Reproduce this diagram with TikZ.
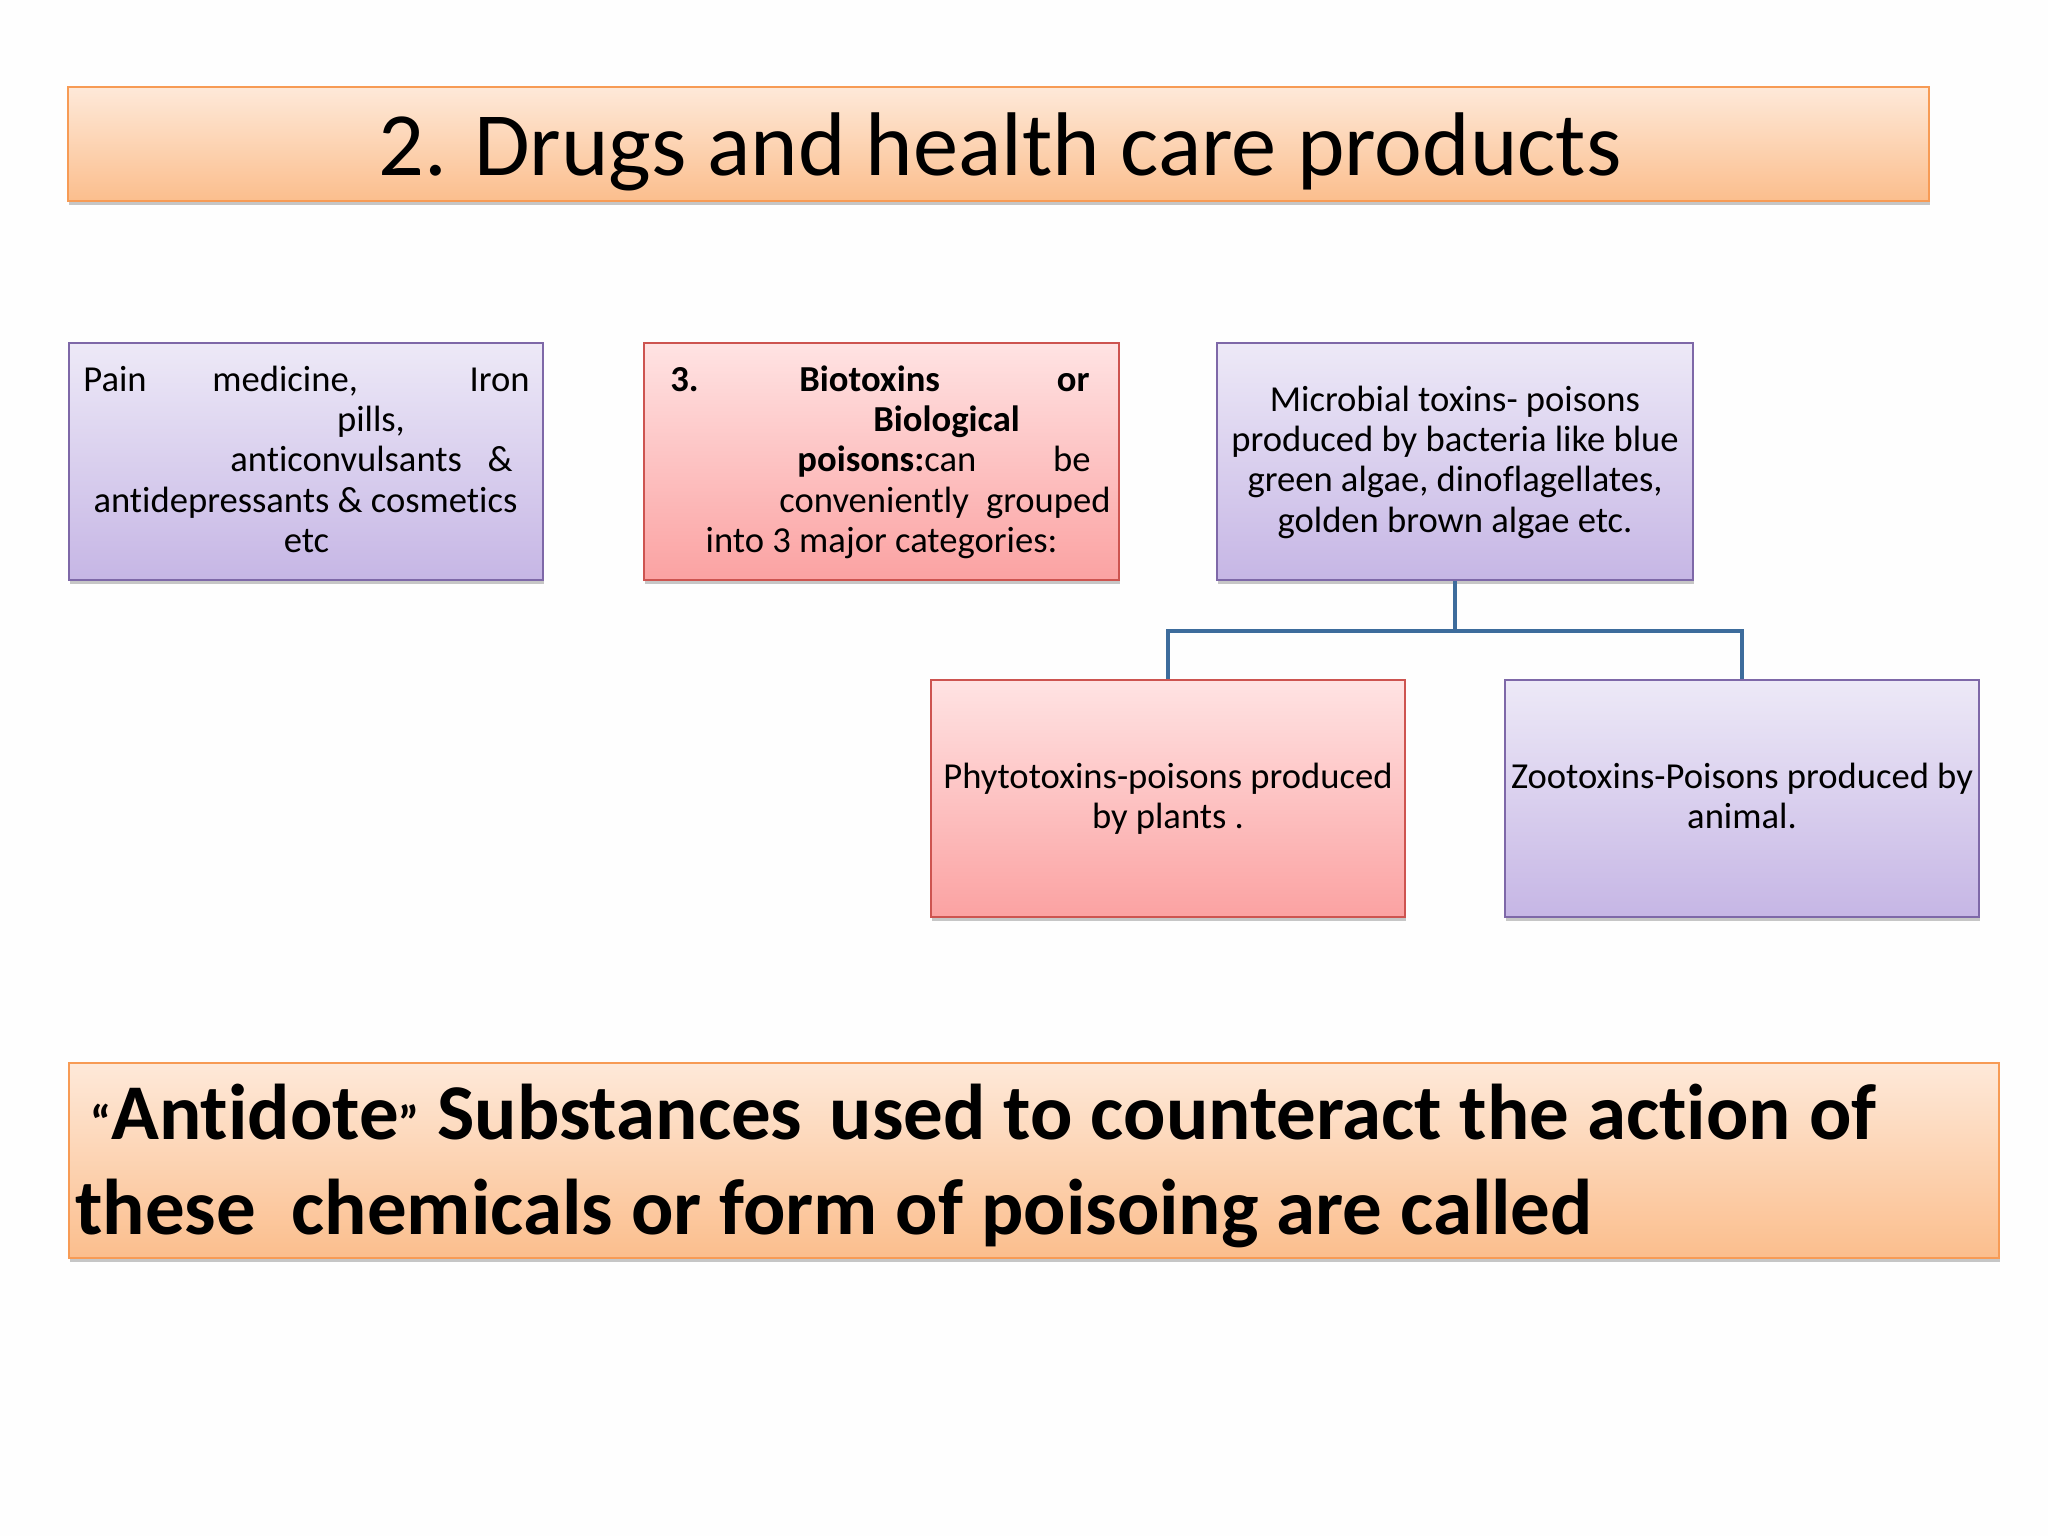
\documentclass[tikz,border=0pt]{standalone}
\usepackage{fontspec}
\setmainfont{Carlito}[Ligatures={NoCommon}]
\usetikzlibrary{shadows}
\definecolor{orTop}{HTML}{FEE9D9}
\definecolor{orBot}{HTML}{FBBE8D}
\definecolor{orLine}{HTML}{F79B55}
\definecolor{puTop}{HTML}{EDE9F7}
\definecolor{puBot}{HTML}{C6B6E5}
\definecolor{puLine}{HTML}{7E68A8}
\definecolor{pkTop}{HTML}{FFE3E3}
\definecolor{pkBot}{HTML}{FBA2A2}
\definecolor{pkLine}{HTML}{CD5450}
\definecolor{conn}{HTML}{3D6C9C}
\definecolor{bgc}{HTML}{FEFEFE}
\newcommand\bxfont{\fontsize{18.3pt}{20.2pt}\selectfont}
\newcommand\ttlfont{\fontsize{45.2pt}{50pt}\selectfont}
\newcommand\btmfont{\fontsize{39.5pt}{47pt}\selectfont\bfseries}
\begin{document}
\begin{tikzpicture}[x=0.5pt,y=-0.5pt,
  panel/.style={draw, line width=1pt, inner sep=0pt, shading angle=0,
    drop shadow={shadow xshift=0.6pt, shadow yshift=-2pt, opacity=0.22, fill=black}},
  orbox/.style={panel, draw=orLine, top color=orTop, bottom color=orBot},
  pubox/.style={panel, draw=puLine, top color=puTop, bottom color=puBot},
  pkbox/.style={panel, draw=pkLine, top color=pkTop, bottom color=pkBot},
  tx/.style={inner sep=0pt, font=\bxfont, anchor=base},
  txw/.style={tx, anchor=base west},
  txe/.style={tx, anchor=base east},
  link/.style={draw=conn, line width=2pt}
]
\fill[bgc] (0,0) rectangle (2048,1536);
\useasboundingbox (0,0) rectangle (2048,1536);

% boxes
\node[orbox, minimum width=930.5pt, minimum height=57pt] (title) at (998.5,144) {};
\node[pubox, minimum width=237pt, minimum height=118.5pt] (b1) at (306,461.5) {};
\node[pkbox, minimum width=237.5pt, minimum height=118.5pt] (b2) at (881.5,461.5) {};
\node[pubox, minimum width=238pt, minimum height=118.5pt] (b3) at (1455,461.5) {};
\node[pkbox, minimum width=237pt, minimum height=118.5pt] (b4) at (1168,798.5) {};
\node[pubox, minimum width=237pt, minimum height=118.5pt] (b5) at (1742,798.5) {};
\node[orbox, minimum width=965pt, minimum height=97.5pt] (b6) at (1034,1160.5) {};

% connectors
\draw[link] (b3.south) -- ++(0,50) coordinate (j) -| (b4.north);
\draw[link] (j) -| (b5.north);

% title
\node[inner sep=0pt, anchor=base, font=\ttlfont] (ttl) at (1000,175) {2. Drugs and health care products};

% box 1
\node[txw] (a1) at (83,391) {Pain};
\node[txw] (a2) at (212,391) {medicine,};
\node[txe] (a3) at (530,391) {Iron};
\node[tx] (a4) at (371,431.4) {pills,};
\node[txw] (a5) at (230,471.8) {anticonvulsants};
\node[txe] (a6) at (513,471.8) {\&};
\node[tx] (a7) at (305.5,512.2) {antidepressants \& cosmetics};
\node[tx] (a8) at (306.5,552.6) {etc};

% box 2
\node[txw] (c1) at (670,391) {\bfseries 3.};
\node[txw] (c2) at (799,391) {\bfseries Biotoxins};
\node[txe] (c3) at (1090,391) {\bfseries or};
\node[txw] (c4) at (873,431.4) {\bfseries Biological};
\node[txw] (c5) at (797,471.8) {\textbf{poisons:}can};
\node[txe] (c6) at (1091,471.8) {be};
\node[txw] (c7) at (779,512.2) {conveniently};
\node[txe] (c8) at (1111,512.2) {grouped};
\node[tx] (c9) at (881.5,552.6) {into 3 major categories:};

% box 3
\node[tx] (m1) at (1455,411) {Microbial toxins- poisons};
\node[tx] (m2) at (1455,451.4) {produced by bacteria like blue};
\node[tx] (m3) at (1455,491.8) {green algae, dinoflagellates,};
\node[tx] (m4) at (1455,532.2) {golden brown algae etc.};

% box 4, 5
\node[tx] (p1) at (1168,788) {Phytotoxins-poisons produced};
\node[tx] (p2) at (1168,828) {by plants .};
\node[tx] (z1) at (1742,788) {Zootoxins-Poisons produced by};
\node[tx] (z2) at (1742,828) {animal.};

% bottom
\node[inner sep=0pt, anchor=base west, font=\btmfont] (n1) at (90,1139)
  {{\fontsize{24pt}{24pt}\selectfont “}Antidote{\fontsize{24pt}{24pt}\selectfont ”} Substances\hspace{0.35em}used to counteract the action of};
\node[inner sep=0pt, anchor=base west, font=\btmfont] (n2) at (75,1234)
  {these\hspace{0.45em}chemicals or form of poisoing are called};
\end{tikzpicture}
\end{document}
